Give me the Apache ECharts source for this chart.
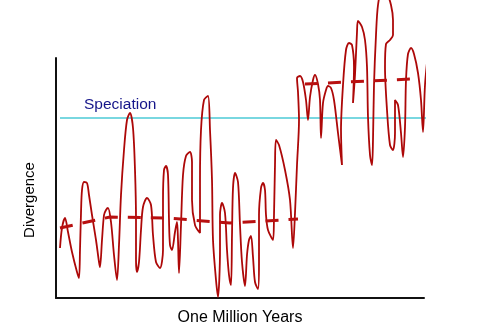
<!DOCTYPE html>
<html>
<head>
<meta charset="utf-8">
<script src="https://cdn.jsdelivr.net/npm/echarts@6/dist/echarts.min.js"></script>
<style>html,body{margin:0;padding:0;background:#fff}#c{width:490px;height:328px}</style>
</head>
<body>
<div id="c"></div>
<script>
// Divergence trace (hand-drawn curve), time (x) and divergence (y) in arbitrary units
const traceX = [4,6,9,12,16,21,23,24,25,26,28,31,33,36,40,43,44,46,48,50,52,55,58,61,63,65,68,71,74,77,79,80,80,81,83,85,87,91,95,97,100,104,107,107,108,110,112,113,114,116,119,121,122,123,125,127,130,134,136,136,139,144,144,145,148,152,154,156,157,160,162,164,164,166,169,171,173,175,176,177,179,182,184,186,189,191,193,195,197,199,202,203,203,205,207,209,210,212,217,218,219,220,223,229,234,237,239,241,243,242,241,244,247,250,252,254,257,259,262,264,265,267,270,272,275,278,282,286,285,287,290,293,296,298,297,299,301,302,306,309,311,312,314,316,317,318,320,322,326,331,335,337,337,334,330,329,331,334,337,339,339,342,345,347,349,350,352,355,358,362,365,367,369,372];
const traceY = [50,70,80,66,46,26,20,48,85,108,116,115,103,83,58,36,31,58,83,88,90,76,43,18,53,103,148,178,185,170,128,78,38,26,36,68,91,100,93,63,36,30,48,98,128,132,123,78,53,48,66,76,58,25,73,123,142,146,136,98,73,65,118,168,198,202,168,118,58,18,1,48,83,95,85,48,23,13,63,110,125,116,73,36,12,43,58,62,41,16,9,35,83,110,115,108,83,68,58,83,133,158,153,128,98,50,85,133,178,206,220,222,216,198,178,201,218,223,214,198,160,195,208,212,210,198,165,133,168,213,248,255,253,231,195,223,266,277,271,258,231,181,143,133,158,213,263,293,308,304,293,278,263,258,254,231,188,153,148,165,198,193,165,141,171,218,244,250,244,225,198,166,213,245];
// Mean level before and after the shift (dashed)
const meanLowX = [4,54,110,174,242];
const meanLowY = [70,81,80,75,79];
const meanHighX = [249,356];
const meanHighY = [214,219];
// Speciation threshold
const speciationX = [4,376];
const speciationY = [180,180];
const speciationLabel = 'Speciation';
const xName = 'One Million Years';
const yName = 'Divergence';

const zip = (a,b) => a.map((v,i)=>[v,b[i]]);
const font = 'Liberation Sans, Arial, sans-serif';
const chart = echarts.init(document.getElementById('c'));
chart.setOption({
  animation:false,
  grid:{left:56,right:66,top:58,bottom:30,outerBoundsMode:'none',containLabel:false},
  xAxis:{type:'value',min:0,max:368,
    axisLine:{show:true,lineStyle:{color:'#111',width:2}},
    axisTick:{show:false},axisLabel:{show:false},splitLine:{show:false},
    name:xName,nameLocation:'middle',nameGap:12,
    nameTextStyle:{color:'#000',fontSize:16,fontFamily:font}},
  yAxis:{type:'value',min:0,max:240,
    axisLine:{show:true,lineStyle:{color:'#111',width:2}},
    axisTick:{show:false},axisLabel:{show:false},splitLine:{show:false}},
  series:[
    {type:'line',data:zip(speciationX,speciationY),symbol:'none',
     lineStyle:{color:'#4ccad6',width:1.6},clip:false,silent:true},
    {type:'line',data:zip(traceX,traceY),symbol:'none',smooth:0.3,clip:false,
     lineStyle:{color:'#ad0808',width:1.8}},
    {type:'line',data:zip(meanLowX,meanLowY),symbol:'none',clip:false,
     lineStyle:{color:'#b81010',width:3,type:[13,10]}},
    {type:'line',data:zip(meanHighX,meanHighY),symbol:'none',clip:false,
     lineStyle:{color:'#b81010',width:3,type:[13,10]}}
  ],
  graphic:[
    {type:'text',left:84,top:97,
     style:{text:speciationLabel,fill:'#15158a',font:'15.5px '+font}},
    {type:'text',x:30,y:200,rotation:Math.PI/2,
     style:{text:yName,fill:'#000',font:'15px '+font,align:'center',verticalAlign:'middle'}}
  ]
});
</script>
</body>
</html>
